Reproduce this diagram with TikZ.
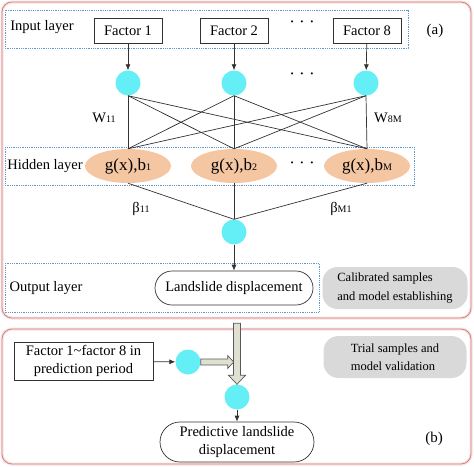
\documentclass[tikz,border=0pt]{standalone}
\usepackage{fontspec}
\setmainfont{Liberation Serif}
\usepackage{tikz}
\usetikzlibrary{shapes.geometric,arrows.meta}

\definecolor{frameRed}{RGB}{214,130,130}
\definecolor{framePink}{RGB}{249,225,225}
\definecolor{layerBlue}{RGB}{95,150,205}
\definecolor{neuronCyan}{RGB}{100,238,245}
\definecolor{hiddenPeach}{RGB}{245,198,162}
\definecolor{noteGrey}{RGB}{217,217,217}
\definecolor{bigArrowFill}{RGB}{224,224,208}
\definecolor{lineGrey}{RGB}{50,50,50}

\newcommand{\idx}[1]{{\fontsize{10}{10}\selectfont #1}}

\begin{document}
\begin{tikzpicture}[x=1pt,y=-1pt,font=\fontsize{14.5}{18.5}\selectfont]
\useasboundingbox (0,0) rectangle (474,466);

%Frames (a) and (b)
\begin{scope}[rounded corners=10pt]
	\draw[framePink,line width=3pt] (2,2) rectangle (471,318);
	\draw[frameRed,line width=0.8pt] (2,2) rectangle (471,318);
	
	\draw[framePink,line width=3pt] (2,329) rectangle (471,464);
	\draw[frameRed,line width=0.8pt] (2,329) rectangle (471,464);
\end{scope}

%Layer boxes
\begin{scope}[layerBlue,densely dotted,line width=0.8pt]
	\draw (5,10) rectangle (408,48);
	\draw (5,147) rectangle (414,185);
	\draw (5,263) rectangle (319,312);
\end{scope}

\begin{scope}[every node/.style={inner sep=1pt}]
	%Layer names
	\node (in_lbl) at (42,27) {Input layer};
	\node (hid_lbl) at (45,166) {Hidden layer};
	\node (out_lbl) at (46,288) {Output layer};
	
	%Weights
	\node (w_11) at (104,118) {W\idx{11}};
	\node (w_8M) at (388,118) {W\idx{8M}};
	\node (b_11) at (141,209) {β\idx{11}};
	\node (b_M1) at (341,209) {β\idx{M1}};
	
	%Dots
	\node[font=\fontsize{17}{17}\selectfont] (dots_f) at (302,24) {·\ ·\ ·};
	\node[font=\fontsize{17}{17}\selectfont] (dots_i) at (302,76) {·\ ·\ ·};
	\node[font=\fontsize{17}{17}\selectfont] (dots_h) at (302,165) {·\ ·\ ·};
	
	%Part labels
	\node (lbl_a) at (435,31) {\fontsize{15}{15}\selectfont(a)};
	\node (lbl_b) at (434,439) {\fontsize{15}{15}\selectfont(b)};
\end{scope}

\begin{scope}[every node/.style={draw=lineGrey,line width=0.7pt,minimum width=68pt,minimum height=25pt,inner sep=1pt}]
	%Input layer
	\node (F_1) at (128,30.5) {Factor 1};
	\node (F_2) at (234,30.5) {Factor 2};
	\node (F_8) at (367,30.5) {Factor 8};
	
	%Prediction input
	\node[minimum width=139pt,minimum height=38pt,align=center] (F_p) at (83.5,361) {Factor 1\textasciitilde factor 8 in\\prediction period};
\end{scope}

\begin{scope}[every node/.style={circle,fill=neuronCyan,minimum size=25pt,inner sep=0pt}]
	\node (i_1) at (128,83) {};
	\node (i_2) at (234,83) {};
	\node (i_8) at (366,83) {};
	
	\node (o) at (234,232) {};
	
	\node (p) at (188,362) {};
	\node (q) at (237,397) {};
\end{scope}

\begin{scope}[every node/.style={ellipse,fill=hiddenPeach,minimum width=86pt,minimum height=34pt,inner sep=0pt,font=\fontsize{17}{17}\selectfont}]
	%Hidden layer
	\node (h_1) at (128,166) {g(x),b\idx{1}};
	\node (h_2) at (234,166) {g(x),b\idx{2}};
	\node (h_M) at (367,166) {g(x),b\idx{M}};
\end{scope}

\begin{scope}[every node/.style={draw=lineGrey,line width=0.7pt,inner sep=1pt,align=center}]
	%Outputs
	\node[minimum width=158pt,minimum height=34pt,rounded corners=17pt] (L) at (234,288) {Landslide displacement};
	\node[minimum width=154pt,minimum height=40pt,rounded corners=20pt] (P) at (237,442) {Predictive landslide\\displacement};
\end{scope}

\begin{scope}[every node/.style={fill=noteGrey,rounded corners=15pt,inner sep=1pt,align=left,font=\fontsize{12.5}{18.5}\selectfont}]
	\node[minimum width=145pt,minimum height=42pt] (N_a) at (395,288) {Calibrated samples\\and model establishing};
	\node[minimum width=143pt,minimum height=42pt] (N_b) at (395,357) {Trial samples and\\model validation};
\end{scope}

\begin{scope}[lineGrey,line width=0.7pt,>={Latex[length=6pt,width=5pt]}]
	%Input to neurons
	\path [->] (F_1) edge node {} (i_1);
	\path [->] (F_2) edge node {} (i_2);
	\path [->] (F_8) edge node {} (i_8);
	
	%Weights W
	\path [-] (i_1.south) edge node {} (h_1.north);
	\path [-] (i_1.south) edge node {} (h_2.north);
	\path [-] (i_1.south) edge node {} (h_M.north);
	\path [-] (i_2.south) edge node {} (h_1.north);
	\path [-] (i_2.south) edge node {} (h_2.north);
	\path [-] (i_2.south) edge node {} (h_M.north);
	\path [-] (i_8.south) edge node {} (h_1.north);
	\path [-] (i_8.south) edge node {} (h_2.north);
	\path [-] (i_8.south) edge node {} (h_M.north);
	
	%Weights beta
	\path [-] (h_1.south) edge node {} (o.north);
	\path [-] (h_2.south) edge node {} (o.north);
	\path [-] (h_M.south) edge node {} (o.north);
	
	%Output
	\path [->] (o) edge node {} (L);
	
	%Prediction
	\path [->] (F_p) edge node {} (p);
	\path [->] (q) edge node {} (P);
\end{scope}

%Hollow arrows
\begin{scope}[fill=bigArrowFill,draw=black!65,line width=0.7pt]
	\filldraw (p.east) ++(0,-3) -- ++(27,0) -- ++(0,-3.5) -- ++(6,6.5) -- ++(-6,6.5) -- ++(0,-3.5) -- ++(-27,0) -- cycle;
	\filldraw (q.north) -- ++(-8.5,-9) -- ++(5,0) -- ++(0,-52) -- ++(7,0) -- ++(0,52) -- ++(5,0) -- cycle;
\end{scope}
\end{tikzpicture}
\end{document}
